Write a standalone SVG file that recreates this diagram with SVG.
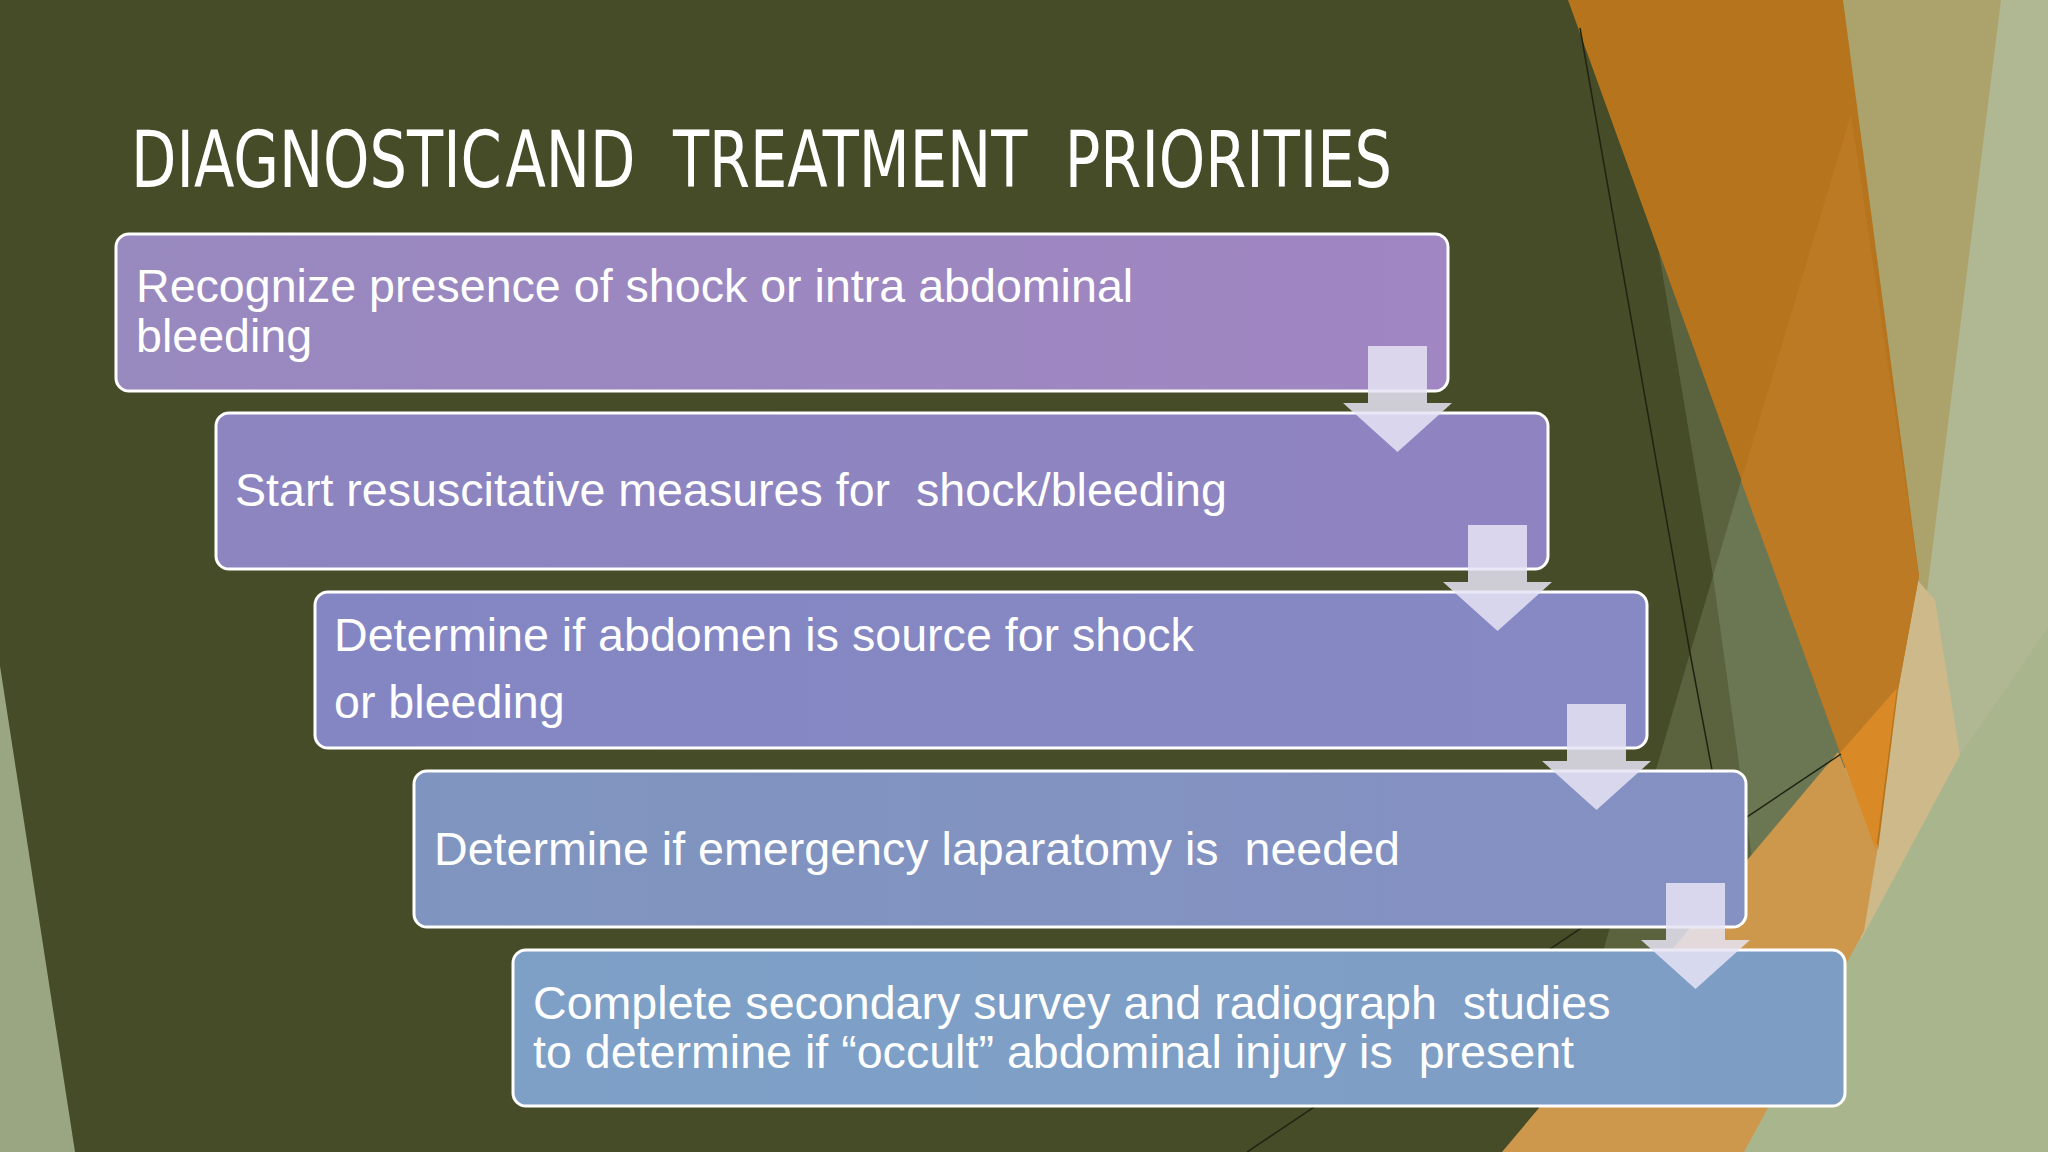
<svg xmlns="http://www.w3.org/2000/svg" width="2048" height="1152" viewBox="0 0 2048 1152">
<defs>
<style>
.box{stroke:#ffffff;stroke-width:3}
.t{font-family:"Liberation Sans",Arial,sans-serif;font-size:46.6px;fill:#ffffff;white-space:pre}
.title{font-family:"Liberation Sans Narrow","DejaVu Sans Condensed","Liberation Sans",sans-serif;font-size:78px;fill:#ffffff;white-space:pre}
.arrow{fill:#e6e4f4;fill-opacity:0.85}
.thin{fill:none;stroke:#1f2312;stroke-width:1.5}
</style>
<linearGradient id="g1" x1="0" x2="1" y1="0" y2="0"><stop offset="0" stop-color="#9889bf"/><stop offset="1" stop-color="#a086c2"/></linearGradient>
<linearGradient id="g2" x1="0" x2="1" y1="0" y2="0"><stop offset="0" stop-color="#8c85c0"/><stop offset="1" stop-color="#8f84c1"/></linearGradient>
<linearGradient id="g3" x1="0" x2="1" y1="0" y2="0"><stop offset="0" stop-color="#8486c3"/><stop offset="1" stop-color="#8689c3"/></linearGradient>
<linearGradient id="g4" x1="0" x2="1" y1="0" y2="0"><stop offset="0" stop-color="#7f95bf"/><stop offset="1" stop-color="#8590c3"/></linearGradient>
<linearGradient id="g5" x1="0" x2="1" y1="0" y2="0"><stop offset="0" stop-color="#7ea0c7"/><stop offset="1" stop-color="#7e9dc5"/></linearGradient>
</defs>
<g id="background">
<rect x="0" y="0" width="2048" height="1152" fill="#464c28"/>
<polygon points="0,666 75,1152 0,1152" fill="#9aa682"/>
<polygon points="1830,0 2048,0 2048,1152 1700,1152 1850,754" fill="#b0b793"/>
<polygon points="1960,755 2048,628 2048,1152 1743,1152 1863,931" fill="#a9b58c"/>
<polygon points="1834,0 2001,0 1926,600 1900,600" fill="#aba26c"/>
<polygon points="1900,560 1935,600 1960,755 1861,940 1848,900" fill="#cdb98a"/>
<polygon points="1659,253 1713,576 1690,653 1566,1078 1700,1000 1850,760 1800,300" fill="#5a623e"/>
<polygon points="1741,481 1850,760 1752,858 1713,576" fill="#6b7653"/>
<polygon points="1568,0 1843,0 1919,576 1898,690 1878,850 1840,753" fill="#b6741c"/>
<polygon points="1851,114 1919,576 1898,690 1841,754 1741,481" fill="#bd7a24"/>
<polygon points="1838,752 1878,846 1864,931 1744,1152 1502,1152" fill="#cd984c"/>
<polygon points="1840,753 1897,688 1876,850" fill="#d98925"/>
<polyline class="thin" points="1580,28 1690,653 1712,770"/>
<polyline class="thin" points="1841,754 1247,1152"/>
</g>
<g id="title">
<text class="title" x="131" y="187" textLength="1261" lengthAdjust="spacingAndGlyphs" dx="0 0 0 0 0 0 0 0 0 0 0 -18">DIAGNOSTIC AND  TREATMENT  PRIORITIES</text>
</g>
<g id="node1">
<rect class="box" x="116" y="234" width="1332" height="157" rx="13" fill="url(#g1)"/>
<text class="t" x="136" y="302">Recognize presence of shock or intra abdominal</text>
<text class="t" x="136" y="352">bleeding</text>
</g>
<g id="node2">
<rect class="box" x="216" y="413" width="1332" height="156" rx="13" fill="url(#g2)"/>
<text class="t" x="235" y="505.5">Start resuscitative measures for  shock/bleeding</text>
</g>
<g id="node3">
<rect class="box" x="315" y="592" width="1332" height="156" rx="13" fill="url(#g3)"/>
<text class="t" x="334" y="650.5">Determine if abdomen is source for shock</text>
<text class="t" x="334" y="717.5">or bleeding</text>
</g>
<g id="node4">
<rect class="box" x="414" y="771" width="1332" height="156" rx="13" fill="url(#g4)"/>
<text class="t" x="434" y="864.5">Determine if emergency laparatomy is  needed</text>
</g>
<g id="node5">
<rect class="box" x="513" y="950" width="1332" height="156" rx="13" fill="url(#g5)"/>
<text class="t" x="533" y="1018.5">Complete secondary survey and radiograph  studies</text>
<text class="t" x="533" y="1068">to determine if “occult” abdominal injury is  present</text>
</g>
<g id="connectors">
<polygon class="arrow" points="1368,346 1427,346 1427,403 1452,403 1397.5,452 1343,403 1368,403"/>
<polygon class="arrow" points="1468,525 1527,525 1527,582 1552,582 1497.5,631 1443,582 1468,582"/>
<polygon class="arrow" points="1567,704 1626,704 1626,761 1651,761 1596.5,810 1542,761 1567,761"/>
<polygon class="arrow" points="1666,883 1725,883 1725,940 1750,940 1695.5,989 1641,940 1666,940"/>
</g>
</svg>
